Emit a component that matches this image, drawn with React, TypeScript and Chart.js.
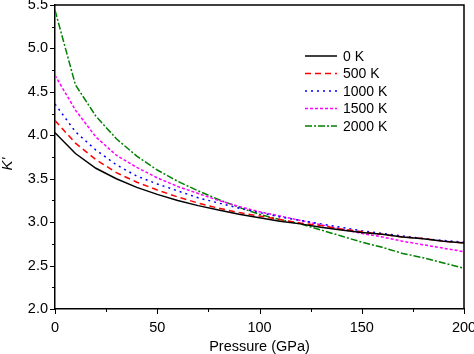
import React, { useEffect, useRef } from 'react';
import { Chart, registerables } from 'chart.js';

Chart.register(...registerables);

// ---- data ----
const pressure = [0, 10, 20, 30, 40, 50, 60, 70, 80, 90, 100, 110, 120, 130, 140, 150, 160, 170, 180, 190, 200];
const k0K = [4.03, 3.79, 3.62, 3.50, 3.40, 3.32, 3.25, 3.19, 3.14, 3.09, 3.05, 3.01, 2.98, 2.94, 2.91, 2.88, 2.86, 2.83, 2.81, 2.78, 2.76];
const k500K = [4.17, 3.91, 3.72, 3.57, 3.46, 3.37, 3.29, 3.22, 3.16, 3.11, 3.07, 3.03, 2.99, 2.96, 2.92, 2.89, 2.86, 2.83, 2.81, 2.78, 2.76];
const k1000K = [4.36, 4.04, 3.83, 3.66, 3.53, 3.44, 3.36, 3.28, 3.22, 3.16, 3.11, 3.06, 3.02, 2.98, 2.94, 2.90, 2.87, 2.84, 2.81, 2.79, 2.77];
const k1500K = [4.69, 4.29, 3.98, 3.77, 3.63, 3.51, 3.41, 3.33, 3.25, 3.18, 3.12, 3.07, 3.02, 2.97, 2.92, 2.87, 2.83, 2.78, 2.74, 2.70, 2.66];
const k2000K = [5.44, 4.58, 4.22, 3.96, 3.76, 3.60, 3.47, 3.36, 3.26, 3.17, 3.09, 3.03, 2.98, 2.91, 2.84, 2.77, 2.71, 2.64, 2.59, 2.53, 2.47];
const seriesLabels = ['0 K', '500 K', '1000 K', '1500 K', '2000 K'];
const xTitle = 'Pressure (GPa)';
const yTitle = "K'";

const FONT = "Arial, 'Liberation Sans', sans-serif";

const seriesValues = [k0K, k500K, k1000K, k1500K, k2000K];
const seriesColors = ['#000000', '#ff0000', '#0000ff', '#ff00ff', '#008000'];
const seriesDashes: number[][] = [[], [6, 4], [2, 4], [3, 2], [7, 2, 2, 2]];

const decorPlugin = {
  id: 'decor',
  afterDraw(chart: any) {
    const { ctx, chartArea: a, scales } = chart;
    ctx.save();
    // top and right frame lines
    ctx.strokeStyle = '#000';
    ctx.lineWidth = 1.5;
    ctx.setLineDash([]);
    ctx.beginPath();
    ctx.moveTo(a.left, a.top);
    ctx.lineTo(a.right, a.top);
    ctx.lineTo(a.right, a.bottom);
    ctx.stroke();

    // outward major/minor ticks
    ctx.lineWidth = 1;
    ctx.beginPath();
    for (let v = 0; v <= 200; v += 25) {
      const x = Math.round(scales.x.getPixelForValue(v)) + 0.5;
      const len = v % 50 === 0 ? 5 : 3;
      ctx.moveTo(x, a.bottom);
      ctx.lineTo(x, a.bottom + len);
    }
    for (let i = 0; i <= 14; i++) {
      const v = 2 + i * 0.25;
      const y = Math.round(scales.y.getPixelForValue(v)) + 0.5;
      const len = i % 2 === 0 ? 5 : 3;
      ctx.moveTo(a.left, y);
      ctx.lineTo(a.left - len, y);
    }
    ctx.stroke();

    // legend
    const lx0 = 305, lx1 = 337, tx = 343, ly0 = 56, dy = 17.5;
    ctx.font = `14px ${FONT}`;
    ctx.textBaseline = 'middle';
    ctx.textAlign = 'left';
    seriesLabels.forEach((lab, i) => {
      const y = ly0 + i * dy;
      ctx.strokeStyle = seriesColors[i];
      ctx.lineWidth = 1.5;
      ctx.setLineDash(seriesDashes[i]);
      ctx.beginPath();
      ctx.moveTo(lx0, y);
      ctx.lineTo(lx1, y);
      ctx.stroke();
      ctx.setLineDash([]);
      ctx.fillStyle = '#000';
      ctx.fillText(lab, tx, y + 1);
    });

    // y-axis title
    ctx.translate(8, 164);
    ctx.rotate(-Math.PI / 2);
    ctx.font = `italic 15px ${FONT}`;
    ctx.textAlign = 'center';
    ctx.textBaseline = 'middle';
    ctx.fillStyle = '#000';
    ctx.fillText(yTitle, 0, 0);
    ctx.restore();
  },
};

export default function App() {
  const ref = useRef<HTMLCanvasElement | null>(null);

  useEffect(() => {
    if (!ref.current) return;
    const datasets = seriesLabels.map((lab, i) => ({
      label: lab,
      data: pressure.map((p, j) => ({ x: p, y: seriesValues[i][j] })),
      borderColor: seriesColors[i],
      backgroundColor: seriesColors[i],
      borderWidth: 1.5,
      borderDash: seriesDashes[i],
      pointRadius: 0,
      tension: 0,
      fill: false,
    }));
    const chart = new Chart(ref.current, {
      type: 'line',
      data: { datasets },
      options: {
        responsive: false,
        animation: false,
        layout: { padding: { top: 5, right: 10, left: 0, bottom: 0 } },
        plugins: { legend: { display: false }, tooltip: { enabled: false } },
        scales: {
          x: {
            type: 'linear',
            min: 0,
            max: 200,
            afterFit: (s: any) => { s.height = 45; s.paddingLeft = 0; s.paddingRight = 0; },
            ticks: { stepSize: 50, color: '#000', font: { family: FONT, size: 14.5 }, padding: 5, maxRotation: 0 },
            grid: { display: true, drawOnChartArea: false, tickLength: 5, color: 'rgba(0,0,0,0)' },
            border: { display: true, color: '#000', width: 1.5 },
            title: { display: true, text: xTitle, color: '#000', font: { family: FONT, size: 14.5, lineHeight: 1 }, padding: 0 },
          },
          y: {
            type: 'linear',
            min: 2,
            max: 5.5,
            afterFit: (s: any) => { s.width = 55; s.paddingTop = 0; s.paddingBottom = 0; },
            ticks: { stepSize: 0.5, color: '#000', font: { family: FONT, size: 14.5 }, padding: 2, callback: (v: any) => Number(v).toFixed(1) },
            grid: { display: true, drawOnChartArea: false, tickLength: 5, color: 'rgba(0,0,0,0)' },
            border: { display: true, color: '#000', width: 1.5 },
            title: { display: false },
          },
        },
      },
      plugins: [decorPlugin],
    });
    return () => chart.destroy();
  }, []);

  return (
    <div style={{ position: 'fixed', left: 0, top: 0, width: 474, height: 354, background: '#fff' }}>
      <canvas ref={ref} width={474} height={354} style={{ display: 'block' }} />
    </div>
  );
}
